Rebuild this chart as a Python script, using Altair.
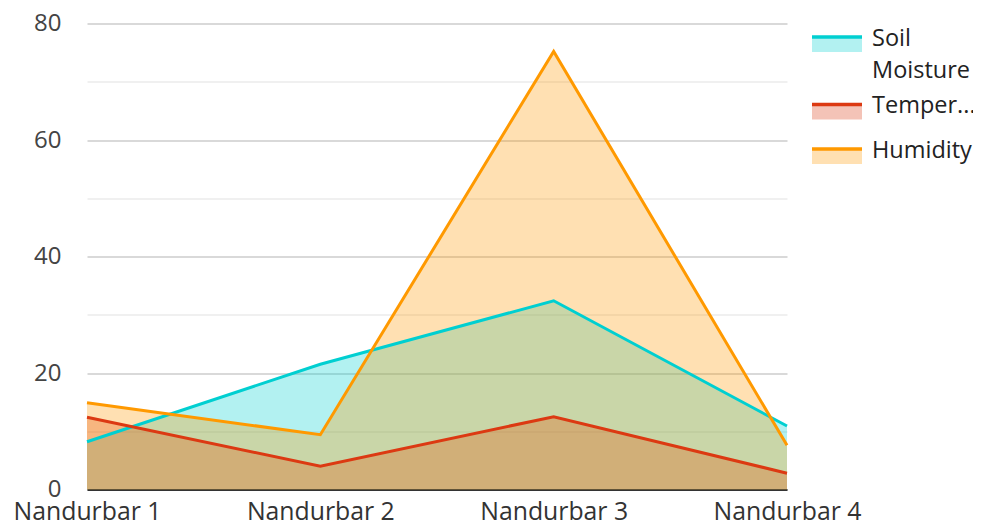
import altair as alt
import pandas as pd

categories = ["Nandurbar 1", "Nandurbar 2", "Nandurbar 3", "Nandurbar 4"]
series = ["Soil Moisture", "Temperature", "Humidity"]
soil_moisture = [8.2, 21.5, 32.4, 10.9]
temperature = [12.4, 4.0, 12.5, 2.8]
humidity = [14.9, 9.4, 75.2, 7.6]

line_colors = ["#00cfd1", "#dc3912", "#ff9900"]
fill_colors = ["rgba(0,207,209,0.3)", "rgba(220,57,18,0.3)", "rgba(255,153,0,0.3)"]

rows = []
for name, vals in zip(series, [soil_moisture, temperature, humidity]):
    for c, v in zip(categories, vals):
        rows.append({"location": c, "series": name, "value": v, "order": series.index(name)})
df = pd.DataFrame(rows)

legend = alt.Legend(
    title=None,
    orient="none",
    legendX=738,
    legendY=3,
    padding=0,
    rowPadding=11.5,
    symbolType="M-2.5,-0.15L2.5,-0.15L2.5,1.35L-2.5,1.35Z",
    symbolSize=400,
    symbolStrokeWidth=3.5,
    symbolDash=[50, 300],
    labelFont="Open Sans",
    labelFontSize=23.5,
    labelColor="#222222",
    labelOffset=23,
    labelLimit=200,
    labelExpr="datum.label == 'Soil Moisture' ? ['Soil', 'Moisture'] : (datum.label == 'Temperature' ? 'Temper...' : datum.label)",
)

x = alt.X(
    "location:N",
    sort=categories,
    scale=alt.Scale(type="point", padding=0),
    axis=alt.Axis(
        title=None,
        labelAngle=0,
        labelFontSize=24.8,
        labelColor="#333333",
        labelPadding=10,
        ticks=False,
        grid=False,
        domainColor="#333333",
        domainWidth=2,
    ),
)
y = alt.Y(
    "value:Q",
    stack=None,
    scale=alt.Scale(domain=[0, 80], nice=False),
    axis=alt.Axis(
        title=None,
        values=[0, 10, 20, 30, 40, 50, 60, 70, 80],
        labelExpr="datum.value % 20 === 0 ? datum.label : ''",
        gridColor={"condition": {"test": "datum.value % 20 === 0", "value": "#cccccc"}, "value": "#ebebeb"},
        gridWidth=1.5,
        ticks=False,
        domain=False,
        labelFontSize=24,
        labelColor="#444444",
        labelPadding=26,
    ),
)

base = alt.Chart(df)
area = base.mark_area(line=False).encode(
    x=x,
    y=y,
    fill=alt.Fill("series:N", sort=series, scale=alt.Scale(domain=series, range=fill_colors), legend=legend),
    order="order:Q",
)
line = base.mark_line(strokeWidth=3).encode(
    x=x,
    y=y,
    stroke=alt.Stroke("series:N", sort=series, scale=alt.Scale(domain=series, range=line_colors), legend=legend),
    order="order:Q",
)

chart = (
    alt.layer(area, line)
    .properties(
        width=700,
        height=466,
        autosize=alt.AutoSizeParams(type="none"),
        padding={"left": 79, "top": 15.5, "right": 186, "bottom": 33.5},
    )
    .configure(font="Open Sans", style={"guide-label": {"lineHeight": 32}})
    .configure_view(stroke=None)
)

chart.save("out.html", embed_options={"renderer": "svg", "actions": False})
